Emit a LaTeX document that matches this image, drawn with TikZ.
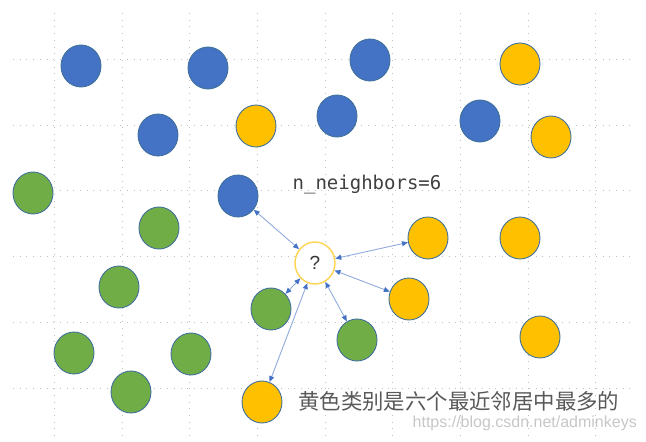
\documentclass[tikz,border=0pt]{standalone}
\usepackage{fontspec}
\usepackage{xcolor}
\usepackage{tikz}
\newfontfamily\cjk{Noto Sans CJK SC}
\newfontfamily\codefont{DejaVu Sans Mono}
\newfontfamily\wmfont{Liberation Sans}
\usetikzlibrary{shapes.geometric,arrows.meta}

\definecolor{ptblue}{HTML}{4472C4}
\definecolor{ptyellow}{HTML}{FFC000}
\definecolor{ptgreen}{HTML}{70AD47}
\definecolor{ptedge}{HTML}{41719C}
\definecolor{qring}{HTML}{FFD34F}
\definecolor{linkblue}{HTML}{8FAADC}
\definecolor{gridgray}{HTML}{BFBFBF}
\definecolor{txtgray}{HTML}{595959}

\tikzset{
    sample/.style={ellipse, minimum width=40pt, minimum height=42pt, inner sep=0pt, draw=ptedge, line width=0.9pt},
    blue sample/.style={sample, fill=ptblue},
    yellow sample/.style={sample, fill=ptyellow},
    green sample/.style={sample, fill=ptgreen},
    query/.style={ellipse, minimum width=40pt, minimum height=42pt, inner sep=0pt, draw=qring, line width=1.4pt, fill=white, text=black!80, font=\wmfont\fontsize{19}{19}\selectfont},
    nb link/.style={linkblue, line width=0.9pt, {Triangle[length=6pt,width=5pt,color=ptblue]}-{Triangle[length=6pt,width=5pt,color=ptblue]}},
    grid line/.style={gridgray, line width=1pt, dash pattern=on 1pt off 5.7pt}
}

\begin{document}
\begin{tikzpicture}[x=1pt, y=-1pt]
    \useasboundingbox (0,0) rectangle (646,442);

    % dotted grid
    \foreach \j in {0,...,5}
        \draw[grid line] (13,59.3+65.8*\j) -- (633,59.3+65.8*\j);
    \foreach \i in {0,...,8}
        \draw[grid line] (54.3+67.7*\i,13) -- (54.3+67.7*\i,440);

    % blue class
    \node[blue sample] (b1) at (81,66) {};
    \node[blue sample] (b2) at (208,68) {};
    \node[blue sample] (b3) at (370,60) {};
    \node[blue sample] (b4) at (158,135) {};
    \node[blue sample] (b5) at (337,116) {};
    \node[blue sample] (b6) at (480,121) {};
    \node[blue sample] (b7) at (238,196) {};

    % yellow class
    \node[yellow sample] (y1) at (520,64) {};
    \node[yellow sample] (y2) at (256,126) {};
    \node[yellow sample] (y3) at (551,137) {};
    \node[yellow sample] (y4) at (428,238) {};
    \node[yellow sample] (y5) at (520,238) {};
    \node[yellow sample] (y6) at (409,299) {};
    \node[yellow sample] (y7) at (540,337) {};
    \node[yellow sample] (y8) at (262,402) {};

    % green class
    \node[green sample] (g1) at (33,193) {};
    \node[green sample] (g2) at (159,228) {};
    \node[green sample] (g3) at (119,287) {};
    \node[green sample] (g4) at (74,353) {};
    \node[green sample] (g5) at (191,354) {};
    \node[green sample] (g6) at (131,392) {};
    \node[green sample] (g7) at (271,309) {};
    \node[green sample] (g8) at (357,340) {};

    % unknown point
    \node[query] (q) at (315,263) {?};

    % six nearest neighbours
    \draw[nb link] (q) -- (b7);
    \draw[nb link] (q) -- (y4);
    \draw[nb link] (q) -- (y6);
    \draw[nb link] (q) -- (g8);
    \draw[nb link] (q) -- (g7);
    \draw[nb link] (q) -- (y8);

    \node[text=black!75, font=\codefont\fontsize{19}{19}\selectfont] (k) at (367,185) {n\_neighbors=6};
    \node[anchor=west, inner sep=0pt, text=txtgray, font=\cjk\fontsize{21.4}{21.4}\selectfont] (note) at (298,401) {黄色类别是六个最近邻居中最多的};
    \node[anchor=east, inner sep=0pt, text=black!22, font=\wmfont\fontsize{16}{16}\selectfont] (wm) at (637,423) {https://blog.csdn.net/adminkeys};
\end{tikzpicture}
\end{document}
